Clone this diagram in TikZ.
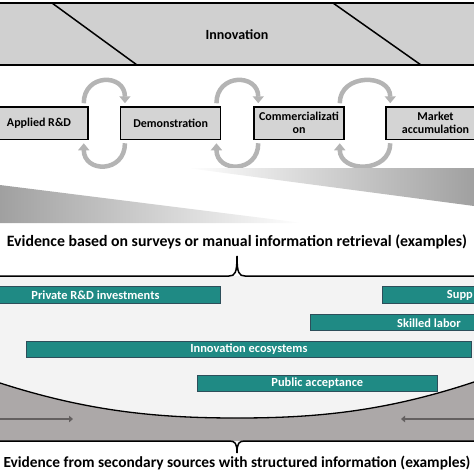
\documentclass[tikz,border=0pt]{standalone}
\usepackage{fontspec}
\setmainfont{Carlito}
\usetikzlibrary{calc,positioning,arrows.meta,shapes}
\definecolor{bandgray}{RGB}{208,208,208}
\definecolor{boxgray}{RGB}{212,212,212}
\definecolor{arcgray}{RGB}{180,180,180}
\definecolor{wedgegray}{RGB}{160,160,160}
\definecolor{tealbar}{RGB}{31,138,132}
\definecolor{barline}{RGB}{45,78,90}
\definecolor{paleback}{RGB}{243,243,243}
\definecolor{darkback}{RGB}{172,168,168}
\definecolor{arrowgray}{RGB}{100,96,96}

\begin{document}
\begin{tikzpicture}[x=1pt,y=-1pt,
  stage/.style={draw,line width=1.5pt,fill=boxgray,minimum height=32.5pt,inner sep=1pt,align=center,font=\fontsize{12}{13}\selectfont\bfseries},
  bar/.style={draw=barline,line width=1pt,fill=tealbar,minimum height=16.5pt,inner sep=0pt,text=white,font=\fontsize{12.4}{12}\selectfont\bfseries},
  cyc/.style={line width=4.5pt,draw=arcgray,-{Triangle[width=11pt,length=7pt]}},
  brace/.style={line width=1.5pt},
  heading/.style={font=\fontsize{15.8}{16}\selectfont\bfseries}]
  \useasboundingbox (0,0) rectangle (474,474);
  \clip (0,0) rectangle (474,474);

  \fill[bandgray] (0,3) rectangle (474,65);
  \draw[line width=2pt] (0,3) -- (474,3) (0,65) -- (474,65);
  \draw[line width=1.5pt] (52,3) -- (137,65) (333,3) -- (421,65);
  \node[font=\fontsize{14}{14}\selectfont\bfseries] (innov) at (237,35) {Innovation};

  \node[stage,minimum width=98pt] (appl) at (39,123.25) {Applied R\&D};
  \node[stage,minimum width=100pt] (demo) at (170.7,123.25) {Demonstration};
  \node[stage,minimum width=90pt] (comm) at (299,123.25) {Commercializati\\on};
  \node[stage,minimum width=99pt] (mark) at (435.5,123.25) {Market\\accumulation};

  \foreach \a/\b in {appl/demo,demo/comm,comm/mark}{
    \draw[cyc] ($(\a.north east)+(-5,-3)$) .. controls +(0,-30) and +(0,-30) .. ($(\b.north west)+(5,-3)$);
    \draw[cyc] ($(\b.south west)+(5,3)$) .. controls +(0,30) and +(0,30) .. ($(\a.south east)+(-5,3)$);
  }

  \shade[left color=white,right color=wedgegray] (187,168) -- (474,168) -- (474,206) -- cycle;
  \shade[left color=wedgegray,right color=white] (0,185) -- (303,223) -- (0,223) -- cycle;

  \node[heading] (surv) at (237,242) {Evidence based on surveys or manual information retrieval (examples)};

  \fill[paleback] (0,276) rectangle (474,441);
  \fill[darkback] (0,383) .. controls (90,412) and (160,418) .. (237,418)
    .. controls (314,418) and (384,412) .. (474,382) -- (474,441) -- (0,441) -- cycle;
  \draw[line width=1.3pt] (0,383) .. controls (90,412) and (160,418) .. (237,418)
    .. controls (314,418) and (384,412) .. (474,382);

  \coordinate (tl) at (0,276);
  \coordinate (tr) at (474,276);
  \coordinate (ttip) at (237,256);
  \draw[brace] (tl) -- (229,276) .. controls (235,276) and (237,273) .. (ttip)
    .. controls (237,273) and (239,276) .. (245,276) -- (tr);

  \node[bar,minimum width=250pt] (priv) at (95.5,295) {Private R\&D investments};
  \node[bar,minimum width=140pt,anchor=west] (supp) at (381.7,295) {};
  \node[anchor=east,inner sep=0pt,text=white,font=\fontsize{12.4}{12}\selectfont\bfseries] (supplbl) at (473,295) {Supp};
  \node[bar,minimum width=238pt] (skill) at (429,322.7) {Skilled labor};
  \node[bar,minimum width=445.7pt] (eco) at (248.9,349.3) {Innovation ecosystems};
  \node[bar,minimum width=240pt] (publ) at (317.3,383.3) {Public acceptance};

  \coordinate (al) at (0,419);
  \coordinate (ae) at (73,419);
  \coordinate (ar) at (474,419);
  \coordinate (be) at (401,419);
  \draw[line width=2.8pt,arrowgray,-{Triangle[width=6.5pt,length=4pt]}] (al) -- (ae);
  \draw[line width=2.8pt,arrowgray,-{Triangle[width=6.5pt,length=4pt]}] (ar) -- (be);

  \coordinate (bl) at (0,441);
  \coordinate (br) at (474,441);
  \coordinate (btip) at (237,453);
  \draw[brace] (bl) -- (229,441) .. controls (235,441) and (237,443) .. (btip)
    .. controls (237,443) and (239,441) .. (245,441) -- (br);

  \node[heading,font=\fontsize{15.4}{16}\selectfont\bfseries] (secd) at (237,463) {Evidence from secondary sources with structured information (examples)};
\end{tikzpicture}
\end{document}
